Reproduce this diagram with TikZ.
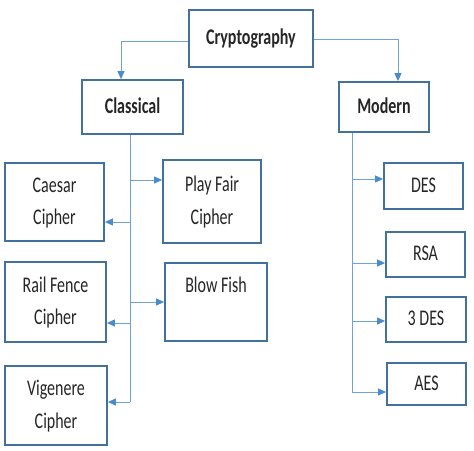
\documentclass[tikz,border=0pt]{standalone}
\usepackage{fontspec}
\setmainfont{Carlito}
\usetikzlibrary{arrows.meta}
\definecolor{boxline}{HTML}{41719C}
\definecolor{connline}{HTML}{6FA3D8}
\definecolor{tipcol}{HTML}{4A8CCB}
\newcommand\boxtxt[1]{\scalebox{1}[1.4]{\begin{tabular}{@{}c@{}}#1\end{tabular}}}
\tikzset{
  box/.style={draw=boxline, line width=1.8pt, fill=white, inner sep=0pt,
    font=\fontsize{16}{23}\selectfont, text=black!85},
  bbox/.style={box, font=\fontsize{16}{23}\selectfont\bfseries},
  conn/.style={draw=connline, line width=1pt,
    -{Triangle[length=8pt,width=7pt,color=tipcol]}},
  trunk/.style={draw=connline, line width=1pt},
}
\begin{document}
\begin{tikzpicture}[x=1pt,y=-1pt]
\useasboundingbox (0,0) rectangle (474,450);
% nodes
\node[bbox, minimum width=124, minimum height=57] (crypto) at (251,38.5) {\boxtxt{Cryptography}};
\node[bbox, minimum width=101, minimum height=54] (classical) at (132.5,107) {\boxtxt{Classical}};
\node[bbox, minimum width=90, minimum height=50] (modern) at (384,107) {\boxtxt{Modern}};
\node[box, minimum width=99, minimum height=78] (caesar) at (54.5,202) {\boxtxt{Caesar\\Cipher}};
\node[box, minimum width=98, minimum height=83] (playfair) at (212,201.5) {\boxtxt{Play Fair\\Cipher}};
\node[box, minimum width=101, minimum height=80] (railfence) at (55.5,302) {\boxtxt{Rail Fence\\Cipher}};
\node[box, minimum width=102, minimum height=78] (blowfish) at (216,302) {\boxtxt{Blow Fish\\{}}};
\node[box, minimum width=102, minimum height=79] (vigenere) at (56,405.5) {\boxtxt{Vigenere\\Cipher}};
\node[box, minimum width=79, minimum height=46] (des) at (423.5,186) {\boxtxt{DES}};
\node[box, minimum width=79, minimum height=45] (rsa) at (425.5,254.5) {\boxtxt{RSA}};
\node[box, minimum width=80, minimum height=45] (tdes) at (426,319.5) {\boxtxt{3 DES}};
\node[box, minimum width=79, minimum height=42] (aes) at (426.5,384) {\boxtxt{AES}};
% top connectors
\draw[conn] ([yshift=-2.5pt]crypto.west) -| ([xshift=-11.5pt]classical.north);
\draw[conn] ([yshift=-0.5pt]crypto.east) -| ([xshift=14pt]modern.north);
% classical trunk
\coordinate (ctop) at ([xshift=-2.5pt]classical.south);
\coordinate (c1) at (130,180);
\coordinate (c2) at (130,222);
\coordinate (c3) at (130,302);
\coordinate (c4) at (130,323);
\coordinate (c5) at (130,402);
\draw[trunk] (ctop) -- (c5);
\draw[conn] (c1) -- (c1 -| playfair.west);
\draw[conn] (c2) -- (c2 -| caesar.east);
\draw[conn] (c3) -- (c3 -| blowfish.west);
\draw[conn] (c4) -- (c4 -| railfence.east);
\draw[conn] (c5) -- (c5 -| vigenere.east);
% modern trunk
\coordinate (mtop) at ([xshift=-32pt]modern.south);
\coordinate (m1) at (352,179);
\coordinate (m2) at (352,263);
\coordinate (m3) at (352,321);
\coordinate (m4) at (352,392);
\draw[trunk] (mtop) -- (m4);
\draw[conn] (m1) -- (m1 -| des.west);
\draw[conn] (m2) -- (m2 -| rsa.west);
\draw[conn] (m3) -- (m3 -| tdes.west);
\draw[conn] (m4) -- (m4 -| aes.west);
\end{tikzpicture}
\end{document}
